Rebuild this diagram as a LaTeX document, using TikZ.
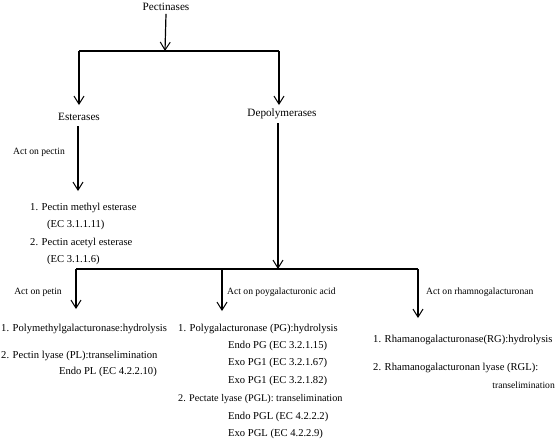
\documentclass[tikz,border=0pt]{standalone}
\usepackage{fontspec}
\setmainfont{Liberation Serif}
\usetikzlibrary{arrows.meta}
\begin{document}
\begin{tikzpicture}[x=1pt,y=-1pt,
  arr/.style={line width=1.2pt,-{Straight Barb[length=8pt,width=10pt,line width=1pt]}},
  bar/.style={line width=2pt},
  head/.style={inner sep=0pt,font=\fontsize{11.2}{13}\selectfont},
  lab/.style={inner sep=0pt,font=\fontsize{9.6}{11}\selectfont},
  item/.style={inner sep=0pt,font=\fontsize{10.6}{12}\selectfont},
]
\useasboundingbox (0,0) rectangle (558,440);
% headings
\node[head] (pect) at (166,7) {Pectinases};
\node[head] (est) at (79,117) {Esterases};
\node[head] (dep) at (282,114) {Depolymerases};
% top tree
\coordinate (t0) at (165,51);
\coordinate (tl) at (79,51);
\coordinate (tr) at (279,51);
\draw[bar] (tl) -- (tr);
\draw[arr] (pect.south) ++(0,3) coordinate (ps) (ps) -- (t0);
\coordinate (el) at (79,105);
\coordinate (er) at (279,105);
\draw[arr] (tl) -- (el);
\draw[arr] (tr) -- (er);
% esterases branch
\coordinate (es) at (78,126);
\coordinate (ee) at (78,191);
\draw[arr] (es) -- (ee);
\node[lab] (aop) at (39,152) {Act on pectin};
\node[item,anchor=west] (e1) at (30,208) {1. Pectin methyl esterase};
\node[item,anchor=west] (e2) at (47,225) {(EC 3.1.1.11)};
\node[item,anchor=west] (e3) at (30,243) {2. Pectin acetyl esterase};
\node[item,anchor=west] (e4) at (47,260) {(EC 3.1.1.6)};
% depolymerases branch
\coordinate (ds) at (278,123);
\coordinate (de) at (278,269);
\draw[arr] (ds) -- (de);
\coordinate (bl) at (76,269);
\coordinate (bm) at (222,269);
\coordinate (br) at (418,269);
\draw[bar] (bl) -- (br);
\coordinate (al) at (76,309);
\coordinate (am) at (222,311);
\coordinate (ar) at (418,318);
\draw[arr] (bl) -- (al);
\draw[arr] (bm) -- (am);
\draw[arr] (br) -- (ar);
\node[lab] (l1) at (38,292) {Act on petin};
\node[lab,anchor=west] (l2) at (227,292) {Act on poygalacturonic acid};
\node[lab,anchor=west] (l3) at (426,292) {Act on rhamnogalacturonan};
% left items
\node[item,anchor=west] (p1) at (1,329) {1. Polymethylgalacturonase:hydrolysis};
\node[item,anchor=west] (p2) at (1,356) {2. Pectin lyase (PL):transelimination};
\node[item,anchor=east] (p3) at (157,372) {Endo PL (EC 4.2.2.10)};
% middle items
\node[item,anchor=west] (m1) at (178,329) {1. Polygalacturonase (PG):hydrolysis};
\node[item,anchor=west] (m2) at (228,346) {Endo PG (EC 3.2.1.15)};
\node[item,anchor=west] (m3) at (228,363) {Exo PG1 (EC 3.2.1.67)};
\node[item,anchor=west] (m4) at (228,381) {Exo PG1 (EC 3.2.1.82)};
\node[item,anchor=west,font=\fontsize{10.2}{12}\selectfont] (m5) at (178,399) {2. Pectate lyase (PGL): transelimination};
\node[item,anchor=west] (m6) at (228,417) {Endo PGL (EC 4.2.2.2)};
\node[item,anchor=west] (m7) at (228,434) {Exo PGL (EC 4.2.2.9)};
% right items
\node[item,anchor=west] (r1) at (373,340) {1. Rhamanogalacturonase(RG):hydrolysis};
\node[item,anchor=west] (r2) at (373,368) {2. Rhamanogalacturonan lyase (RGL):};
\node[lab,anchor=east] (r3) at (555,385) {transelimination};
\end{tikzpicture}
\end{document}
